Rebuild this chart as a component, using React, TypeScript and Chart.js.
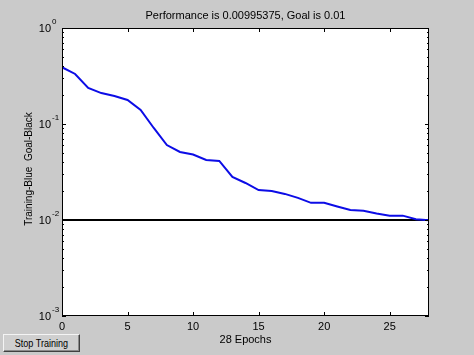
import React, { useEffect, useRef } from "react";
import { Chart, registerables } from "chart.js";

Chart.register(...registerables);

// ---- Data ----
const epochs = [0, 1, 2, 3, 4, 5, 6, 7, 8, 9, 10, 11, 12, 13, 14, 15, 16, 17, 18, 19, 20, 21, 22, 23, 24, 25, 26, 27, 28];
const trainingPerf = [
  0.39, 0.332, 0.237, 0.21, 0.196, 0.178, 0.14, 0.0909, 0.0604, 0.0511,
  0.0481, 0.0422, 0.0412, 0.0281, 0.0243, 0.0205, 0.02, 0.0187, 0.017, 0.0151,
  0.0151, 0.0138, 0.0127, 0.0125, 0.0117, 0.0111, 0.0111, 0.0102, 0.00995375,
];
const goal = 0.01;
const xMin = 0;
const xMax = 28;
const xTicks = [0, 5, 10, 15, 20, 25];
const yExponents = [0, -1, -2, -3];
const titleText = "Performance is 0.00995375, Goal is 0.01";
const xLabel = "28 Epochs";
const yLabel = "Training-Blue  Goal-Black";
const buttonLabel = "Stop Training";

const BG = "#cacaca";
const FONT = "'Liberation Sans', Arial, Helvetica, sans-serif";

const matlabAxes = {
  id: "matlabAxes",
  beforeDatasetsDraw(chart: any) {
    const { ctx, chartArea: a } = chart;
    ctx.save();
    ctx.fillStyle = "#ffffff";
    ctx.fillRect(a.left, a.top, a.right - a.left, a.bottom - a.top);
    ctx.restore();
  },
  afterDatasetsDraw(chart: any) {
    const { ctx, chartArea: a } = chart;
    const xs = chart.scales.x;
    const ys = chart.scales.y;
    ctx.save();
    ctx.strokeStyle = "#000";
    ctx.lineWidth = 1;
    // frame
    ctx.strokeRect(a.left + 0.5, a.top + 0.5, a.right - a.left - 1, a.bottom - a.top - 1);
    ctx.beginPath();
    // x ticks (bottom + top)
    for (const t of xTicks) {
      const px = Math.round(xs.getPixelForValue(t)) + 0.5;
      ctx.moveTo(px, a.bottom);
      ctx.lineTo(px, a.bottom - 4);
      ctx.moveTo(px, a.top);
      ctx.lineTo(px, a.top + 4);
    }
    // y major + minor ticks (left + right)
    for (const e of yExponents) {
      const py = Math.round(ys.getPixelForValue(Math.pow(10, e))) + 0.5;
      ctx.moveTo(a.left, py);
      ctx.lineTo(a.left + 4, py);
      ctx.moveTo(a.right, py);
      ctx.lineTo(a.right - 4, py);
      if (e < 0) {
        for (let k = 2; k <= 9; k++) {
          const my = Math.round(ys.getPixelForValue(k * Math.pow(10, e))) + 0.5;
          ctx.moveTo(a.left, my);
          ctx.lineTo(a.left + 2, my);
          ctx.moveTo(a.right, my);
          ctx.lineTo(a.right - 2, my);
        }
      }
    }
    ctx.stroke();

    ctx.fillStyle = "#000";
    // x tick labels
    ctx.font = `11px ${FONT}`;
    ctx.textAlign = "center";
    ctx.textBaseline = "alphabetic";
    for (const t of xTicks) {
      ctx.fillText(String(t), xs.getPixelForValue(t), a.bottom + 14);
    }
    // x label
    ctx.fillText(xLabel, (a.left + a.right) / 2, a.bottom + 27);
    // title
    ctx.fillText(titleText, (a.left + a.right) / 2, a.top - 9);
    // y tick labels
    for (const e of yExponents) {
      const py = ys.getPixelForValue(Math.pow(10, e));
      ctx.font = `11px ${FONT}`;
      ctx.textAlign = "right";
      ctx.fillText("10", a.left - 11, py + 4);
      ctx.font = `8px ${FONT}`;
      ctx.textAlign = "left";
      ctx.fillText(String(e), a.left - 10, py - 4);
    }
    // y label
    ctx.font = `10px ${FONT}`;
    ctx.textAlign = "center";
    ctx.translate(32, (a.top + a.bottom) / 2 - 3);
    ctx.rotate(-Math.PI / 2);
    ctx.fillText(yLabel, 0, 0);
    ctx.restore();
  },
};

export default function App() {
  const ref = useRef<HTMLCanvasElement>(null);
  useEffect(() => {
    document.body.style.margin = "0";
    const chart = new Chart(ref.current as HTMLCanvasElement, {
      type: "line",
      data: {
        datasets: [
          {
            label: "Training",
            data: epochs.map((x, i) => ({ x, y: trainingPerf[i] })),
            borderColor: "#0c0ce6",
            borderWidth: 2,
            pointRadius: 0,
            tension: 0,
            fill: false,
          },
          {
            label: "Goal",
            data: [
              { x: xMin, y: goal },
              { x: xMax, y: goal },
            ],
            borderColor: "#000000",
            borderWidth: 2,
            pointRadius: 0,
            fill: false,
          },
        ],
      },
      options: {
        responsive: false,
        animation: false,
        devicePixelRatio: 1,
        layout: { padding: { left: 62, top: 28, right: 45, bottom: 39 } },
        scales: {
          x: { type: "linear", min: xMin, max: xMax, display: false },
          y: { type: "logarithmic", min: 0.001, max: 1, display: false },
        },
        plugins: { legend: { display: false }, tooltip: { enabled: false }, title: { display: false } },
      },
      plugins: [matlabAxes],
    } as any);
    return () => chart.destroy();
  }, []);

  return (
    <div style={{ position: "fixed", left: 0, top: 0, width: 474, height: 355, background: BG, overflow: "hidden" }}>
      <canvas ref={ref} width={474} height={355} style={{ display: "block", width: 474, height: 355 }} />
      <button
        style={{
          position: "absolute",
          left: 3,
          top: 334,
          width: 77,
          height: 18,
          padding: 0,
          margin: 0,
          background: "#cfcfcf",
          borderStyle: "solid",
          borderWidth: 1,
          borderColor: "#f4f4f4 #404040 #404040 #f4f4f4",
          boxShadow: "inset -1px -1px 0 #8a8a8a",
          font: `11px ${FONT}`,
          color: "#000",
          display: "flex",
          alignItems: "center",
          justifyContent: "center",
          overflow: "hidden",
        }}
      >
        <span style={{ display: "inline-block", transform: "scaleX(0.82)", whiteSpace: "nowrap" }}>{buttonLabel}</span>
      </button>
    </div>
  );
}
